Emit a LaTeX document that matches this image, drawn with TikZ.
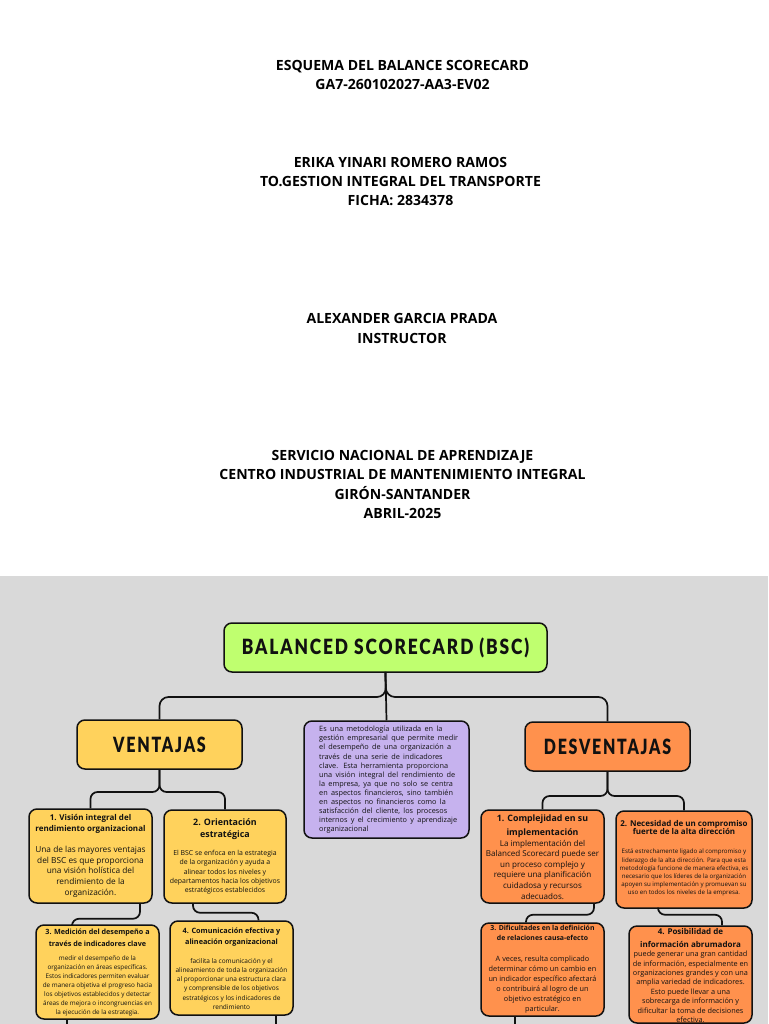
\documentclass[tikz,border=0pt]{standalone}
\usepackage{fontspec}
\setmainfont{Open Sans}
\newfontfamily\dispfont[LetterSpace=11]{Lato Black}
\definecolor{bggray}{HTML}{D9D9D9}
\definecolor{cgreen}{HTML}{BFFF6F}
\definecolor{cyellow}{HTML}{FFD25C}
\definecolor{cpurple}{HTML}{C6B2EE}
\definecolor{corange}{HTML}{FF914D}
\definecolor{ink}{HTML}{111111}
\newcommand{\ttl}[1]{\fontsize{#1}{#1}\bfseries}
\newcommand{\fs}[2]{\fontsize{#1}{#2}\selectfont}
\newcommand{\jl}[1]{\hbox to 124pt{#1}}
\newcommand{\shf}[1]{\vspace{#1pt}}
\tikzset{
  box/.style={draw=ink,line width=1.5pt,rounded corners=8pt,inner sep=0pt,align=flush center,text=ink,anchor=center},
  head/.style={text=black,align=flush center,anchor=center,inner sep=0pt,font=\bfseries\fontsize{14.05}{19.4}\selectfont},
  conn/.style={draw=ink,line width=1.7pt,rounded corners=9pt},
  conns/.style={conn,rounded corners=7pt}
}
\begin{document}
\begin{tikzpicture}[x=1pt,y=-1pt]
\useasboundingbox (0,0) rectangle (768,1024);
\fill[white] (0,0) rectangle (768,576);
\fill[bggray] (0,576) rectangle (768,1024);

\node[head] (h1) at (402.5,75) {ESQUEMA DEL BALANCE SCORECARD\\GA7-260102027-AA3-EV02};
\node[head] (h2) at (400.5,181.5) {ERIKA YINARI ROMERO RAMOS\\TO.GESTION INTEGRAL DEL TRANSPORTE\\FICHA: 2834378};
\node[head] (h3) at (402,328.5) {ALEXANDER GARCIA PRADA\\INSTRUCTOR};
\node[head] (h4) at (402.5,484.5) {SERVICIO NACIONAL DE APRENDIZAJE\\CENTRO INDUSTRIAL DE MANTENIMIENTO INTEGRAL\\GIRÓN-SANTANDER\\ABRIL-2025};

\node[box,fill=cgreen,minimum width=323pt,minimum height=49pt] (main) at (385.5,647.5) {\raisebox{2pt}{\scalebox{.825}[1]{\dispfont\fontsize{21}{21}\selectfont BALANCED SCORECARD (BSC)}}};
\node[box,fill=cyellow,minimum width=165pt,minimum height=49pt] (ven) at (159.5,744.5) {\scalebox{.765}[1]{\dispfont\fontsize{21}{21}\selectfont VENTAJAS}};
\node[box,fill=corange,minimum width=165pt,minimum height=49pt] (des) at (607.5,746.5) {\scalebox{.76}[1]{\dispfont\fontsize{21}{21}\selectfont DESVENTAJAS}};
\node[box,fill=cpurple,minimum width=165pt,minimum height=117pt] (pur) at (386.5,779.5) {};
\node[anchor=north west,inner sep=0pt,text=ink,text width=124pt] (purtext) at (319,726) {\fs{7.3}{9.09}%
\jl{Es una metodología utilizada en la}\par
\jl{gestión empresarial que permite medir}\par
\jl{el desempeño de una organización a}\par
\jl{través de una serie de indicadores}\par
\jl{clave. Esta herramienta proporciona}\par
\jl{una visión integral del rendimiento de}\par
\jl{la empresa, ya que no solo se centra}\par
\jl{en aspectos financieros, sino también}\par
\jl{en aspectos no financieros como la}\par
\jl{satisfacción del cliente, los procesos}\par
\jl{internos y el crecimiento y aprendizaje}\par
\hbox{organizacional}};

\node[box,fill=cyellow,minimum width=123pt,minimum height=94pt,text width=123pt] (v1) at (90.5,856) {\ttl{8}\fs{8}{10.2}1. Visión integral del\\rendimiento organizacional\par\vspace{11pt}\mdseries\fs{8.3}{10.6}Una de las mayores ventajas\\del BSC es que proporciona\\una visión holística del\\rendimiento de la\\organización.\par};
\node[box,fill=cyellow,minimum width=122pt,minimum height=93pt,text width=122pt] (v2) at (225,856.5) {\ttl{8.9}\fs{8.9}{12}2. Orientación\\estratégica\par\vspace{9pt}\mdseries\fs{6.9}{9.3}El BSC se enfoca en la estrategia\\de la organización y ayuda a\\alinear todos los niveles y\\departamentos hacia los objetivos\\estratégicos establecidos\par};
\node[box,fill=cyellow,minimum width=123pt,minimum height=94pt,text width=123pt] (v3) at (97.5,972) {\shf{1}\ttl{7.2}\fs{7.2}{11}3. Medición del desempeño a\\través de indicadores clave\par\vspace{5pt}\mdseries\fs{6.35}{8.9}medir el desempeño de la\\organización en áreas específicas.\\Estos indicadores permiten evaluar\\de manera objetiva el progreso hacia\\los objetivos establecidos y detectar\\áreas de mejora o incongruencias en\\la ejecución de la estrategia.\par\shf{-1}};
\node[box,fill=cyellow,minimum width=123pt,minimum height=94pt,text width=123pt] (v4) at (231.5,968) {\shf{1}\ttl{7.3}\fs{7.3}{10}4. Comunicación efectiva y\\alineación organizacional\par\vspace{10pt}\mdseries\fs{6.5}{9.2}facilita la comunicación y el\\alineamiento de toda la organización\\al proporcionar una estructura clara\\y comprensible de los objetivos\\estratégicos y los indicadores de\\rendimiento\par\shf{-1}};

\node[box,fill=corange,minimum width=123pt,minimum height=93pt,text width=123pt] (d1) at (542.5,856.5) {\shf{1.5}\ttl{8.8}\fs{8.8}{12}1. Complejidad en su\\implementación\par\mdseries\fs{8.05}{10.6}La implementación del\\Balanced Scorecard puede ser\\un proceso complejo y\\requiere una planificación\\cuidadosa y recursos\\adecuados.\par\shf{-1.5}};
\node[box,fill=corange,minimum width=136pt,minimum height=97pt,text width=136pt] (d2) at (684,859.5) {\shf{-2.5}\ttl{8}\fs{8}{11}2. Necesidad de un compromiso\\fuerte de la alta dirección\par\vspace{11pt}\mdseries\fs{6.15}{8.2}Está estrechamente ligado al compromiso y\\liderazgo de la alta dirección. Para que esta\\metodología funcione de manera efectiva, es\\necesario que los líderes de la organización\\apoyen su implementación y promuevan su\\uso en todos los niveles de la empresa.\par\shf{2.5}};
\node[box,fill=corange,minimum width=123pt,minimum height=93pt,text width=123pt] (d3) at (542.5,969.5) {\shf{-0.5}\ttl{6.9}\fs{6.9}{10}3. Dificultades en la definición\\de relaciones causa-efecto\par\vspace{11pt}\mdseries\fs{7.3}{10}A veces, resulta complicado\\determinar cómo un cambio en\\un indicador específico afectará\\o contribuirá al logro de un\\objetivo estratégico en\\particular.\par\shf{0.5}};
\node[box,fill=corange,minimum width=123pt,minimum height=97pt,text width=123pt] (d4) at (690.5,974.5) {\shf{2}\ttl{8}\fs{8}{11}4. Posibilidad de\\información abrumadora\par\mdseries\fs{7.3}{9.45}puede generar una gran cantidad\\de información, especialmente en\\organizaciones grandes y con una\\amplia variedad de indicadores.\\Esto puede llevar a una\\sobrecarga de información y\\dificultar la toma de decisiones\\efectiva.\par\shf{-2}};

\coordinate (jm) at (386,697);
\coordinate (jv) at (159.5,792);
\coordinate (jd) at (607.5,796);
\coordinate (endv3) at (67,1024);
\coordinate (endv4) at (276,1024);
\coordinate (endd3) at (515,1024);

\draw[conn] (main.south) -- (pur.north);
\draw[conn] (main.south) -- ++(0,8) -- (jm) -| (ven.north);
\draw[conn] (main.south) -- ++(0,8) -- (jm) -| (des.north);
\draw[conns] (ven.south) -- (jv) -| (v1.north);
\draw[conns] (ven.south) -- (jv) -| (v2.north);
\draw[conns] (des.south) -- (jd) -| (d1.north);
\draw[conns] (des.south) -- (jd) -| (d2.north);
\draw[conns] ([xshift=49.5pt]v1.south) -- ++(0,15) -| ([xshift=-25.5pt]v3.north);
\draw[conns] ([xshift=-32pt]v2.south) -- ++(0,9) -| ([xshift=27pt]v4.north);
\draw[conns] ([xshift=51.5pt]d1.south) -- ++(0,11) -| ([xshift=-16.5pt]d3.north);
\draw[conns] ([xshift=-26pt]d2.south) -- ++(0,6) -| ([xshift=31.5pt]d4.north);
\draw[conn] ([xshift=-30.5pt]v3.south) -- (endv3);
\draw[conn] ([xshift=44.5pt]v4.south) -- (endv4);
\draw[conn] ([xshift=-27.5pt]d3.south) -- (endd3);
\end{tikzpicture}
\end{document}
